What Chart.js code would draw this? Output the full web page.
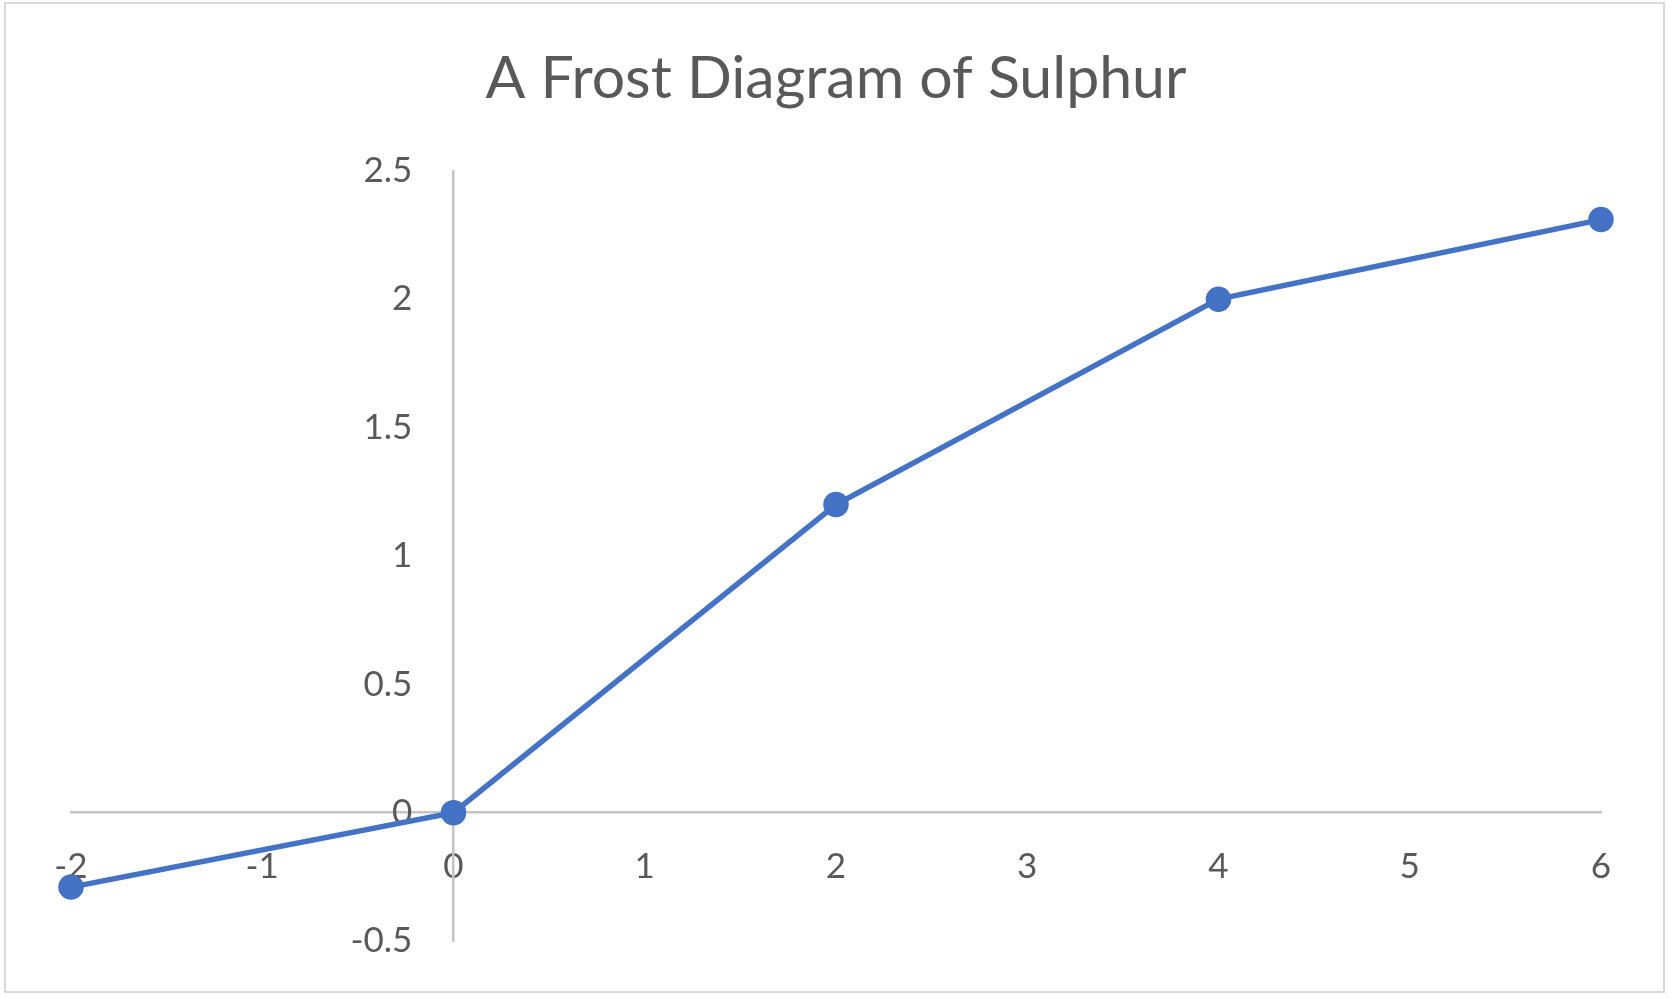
<!DOCTYPE html>
<html>
<head>
<meta charset="utf-8">
<title>A Frost Diagram of Sulphur</title>
<script src="https://cdn.jsdelivr.net/npm/chart.js@4.4.1/dist/chart.umd.min.js"></script>
<style>
  html, body { margin: 0; padding: 0; background: #fff; }
  #wrap { position: relative; width: 1672px; height: 999px; }
  #frame { position: absolute; left: 4px; top: 2px; width: 1657px; height: 987px; border: 2px solid #d9d9d9; }
  #chart { position: absolute; left: 0; top: 0; }
</style>
</head>
<body>
<div id="wrap">
  <div id="frame"></div>
  <canvas id="chart" width="1672" height="999"></canvas>
</div>
<script>
// oxidation state vs volt-equivalent (nE)
const oxidationStates = [-2, 0, 2, 4, 6];
const voltEquivalents = [-0.29, 0, 1.2, 2.0, 2.31];
const xTicks = [-2, -1, 0, 1, 2, 3, 4, 5, 6];
const yTicks = [-0.5, 0, 0.5, 1, 1.5, 2, 2.5];

const textColor = '#595959';
const axisColor = '#c4c4c4';
const lineBlue = '#4472c4';
const fontFamily = 'Lato, "Open Sans", sans-serif';

// y labels sit a little left of the vertical axis (which crosses at x = 0)
const yLabelX = -0.215;

const points = oxidationStates.map((x, i) => ({ x: x, y: voltEquivalents[i] }));

const ctx = document.getElementById('chart');
new Chart(ctx, {
  type: 'scatter',
  data: {
    datasets: [{
      label: 'Sulphur',
      data: points,
      showLine: true,
      borderColor: lineBlue,
      backgroundColor: lineBlue,
      borderWidth: 5.5,
      pointRadius: 12,
      pointBorderWidth: 1.5,
      pointBackgroundColor: lineBlue,
      pointBorderColor: lineBlue,
      clip: false
    }]
  },
  options: {
    responsive: false,
    animation: false,
    devicePixelRatio: 1,
    layout: { padding: { left: 71, right: 71, top: 0, bottom: 58 } },
    plugins: {
      legend: { display: false },
      tooltip: { enabled: false },
      title: {
        display: true,
        text: 'A Frost Diagram of Sulphur',
        color: textColor,
        font: { family: fontFamily, size: 59, weight: 'normal', lineHeight: 1.2 },
        padding: { top: 44, bottom: 56 }
      }
    },
    scales: {
      x: {
        type: 'linear',
        position: { y: 0 },
        min: -2,
        max: 6,
        afterBuildTicks: axis => { axis.ticks = xTicks.map(v => ({ value: v })); },
        grid: { display: false, drawTicks: false },
        border: { display: true, color: axisColor, width: 2.5 },
        ticks: {
          color: textColor,
          padding: 33,
          font: { family: fontFamily, size: 35 },
          callback: v => String(v)
        }
      },
      y: {
        type: 'linear',
        position: { x: 0 },
        min: -0.5,
        max: 2.5,
        afterBuildTicks: axis => { axis.ticks = yTicks.map(v => ({ value: v })); },
        grid: { display: false, drawTicks: false },
        border: { display: true, color: axisColor, width: 2.5 },
        ticks: { display: false }
      },
      yLabels: {
        type: 'linear',
        axis: 'y',
        position: { x: yLabelX },
        min: -0.5,
        max: 2.5,
        afterBuildTicks: axis => { axis.ticks = yTicks.map(v => ({ value: v })); },
        grid: { display: false, drawTicks: false },
        border: { display: false },
        ticks: {
          color: textColor,
          font: { family: fontFamily, size: 35 },
          callback: v => String(v)
        }
      }
    }
  }
});
</script>
</body>
</html>
